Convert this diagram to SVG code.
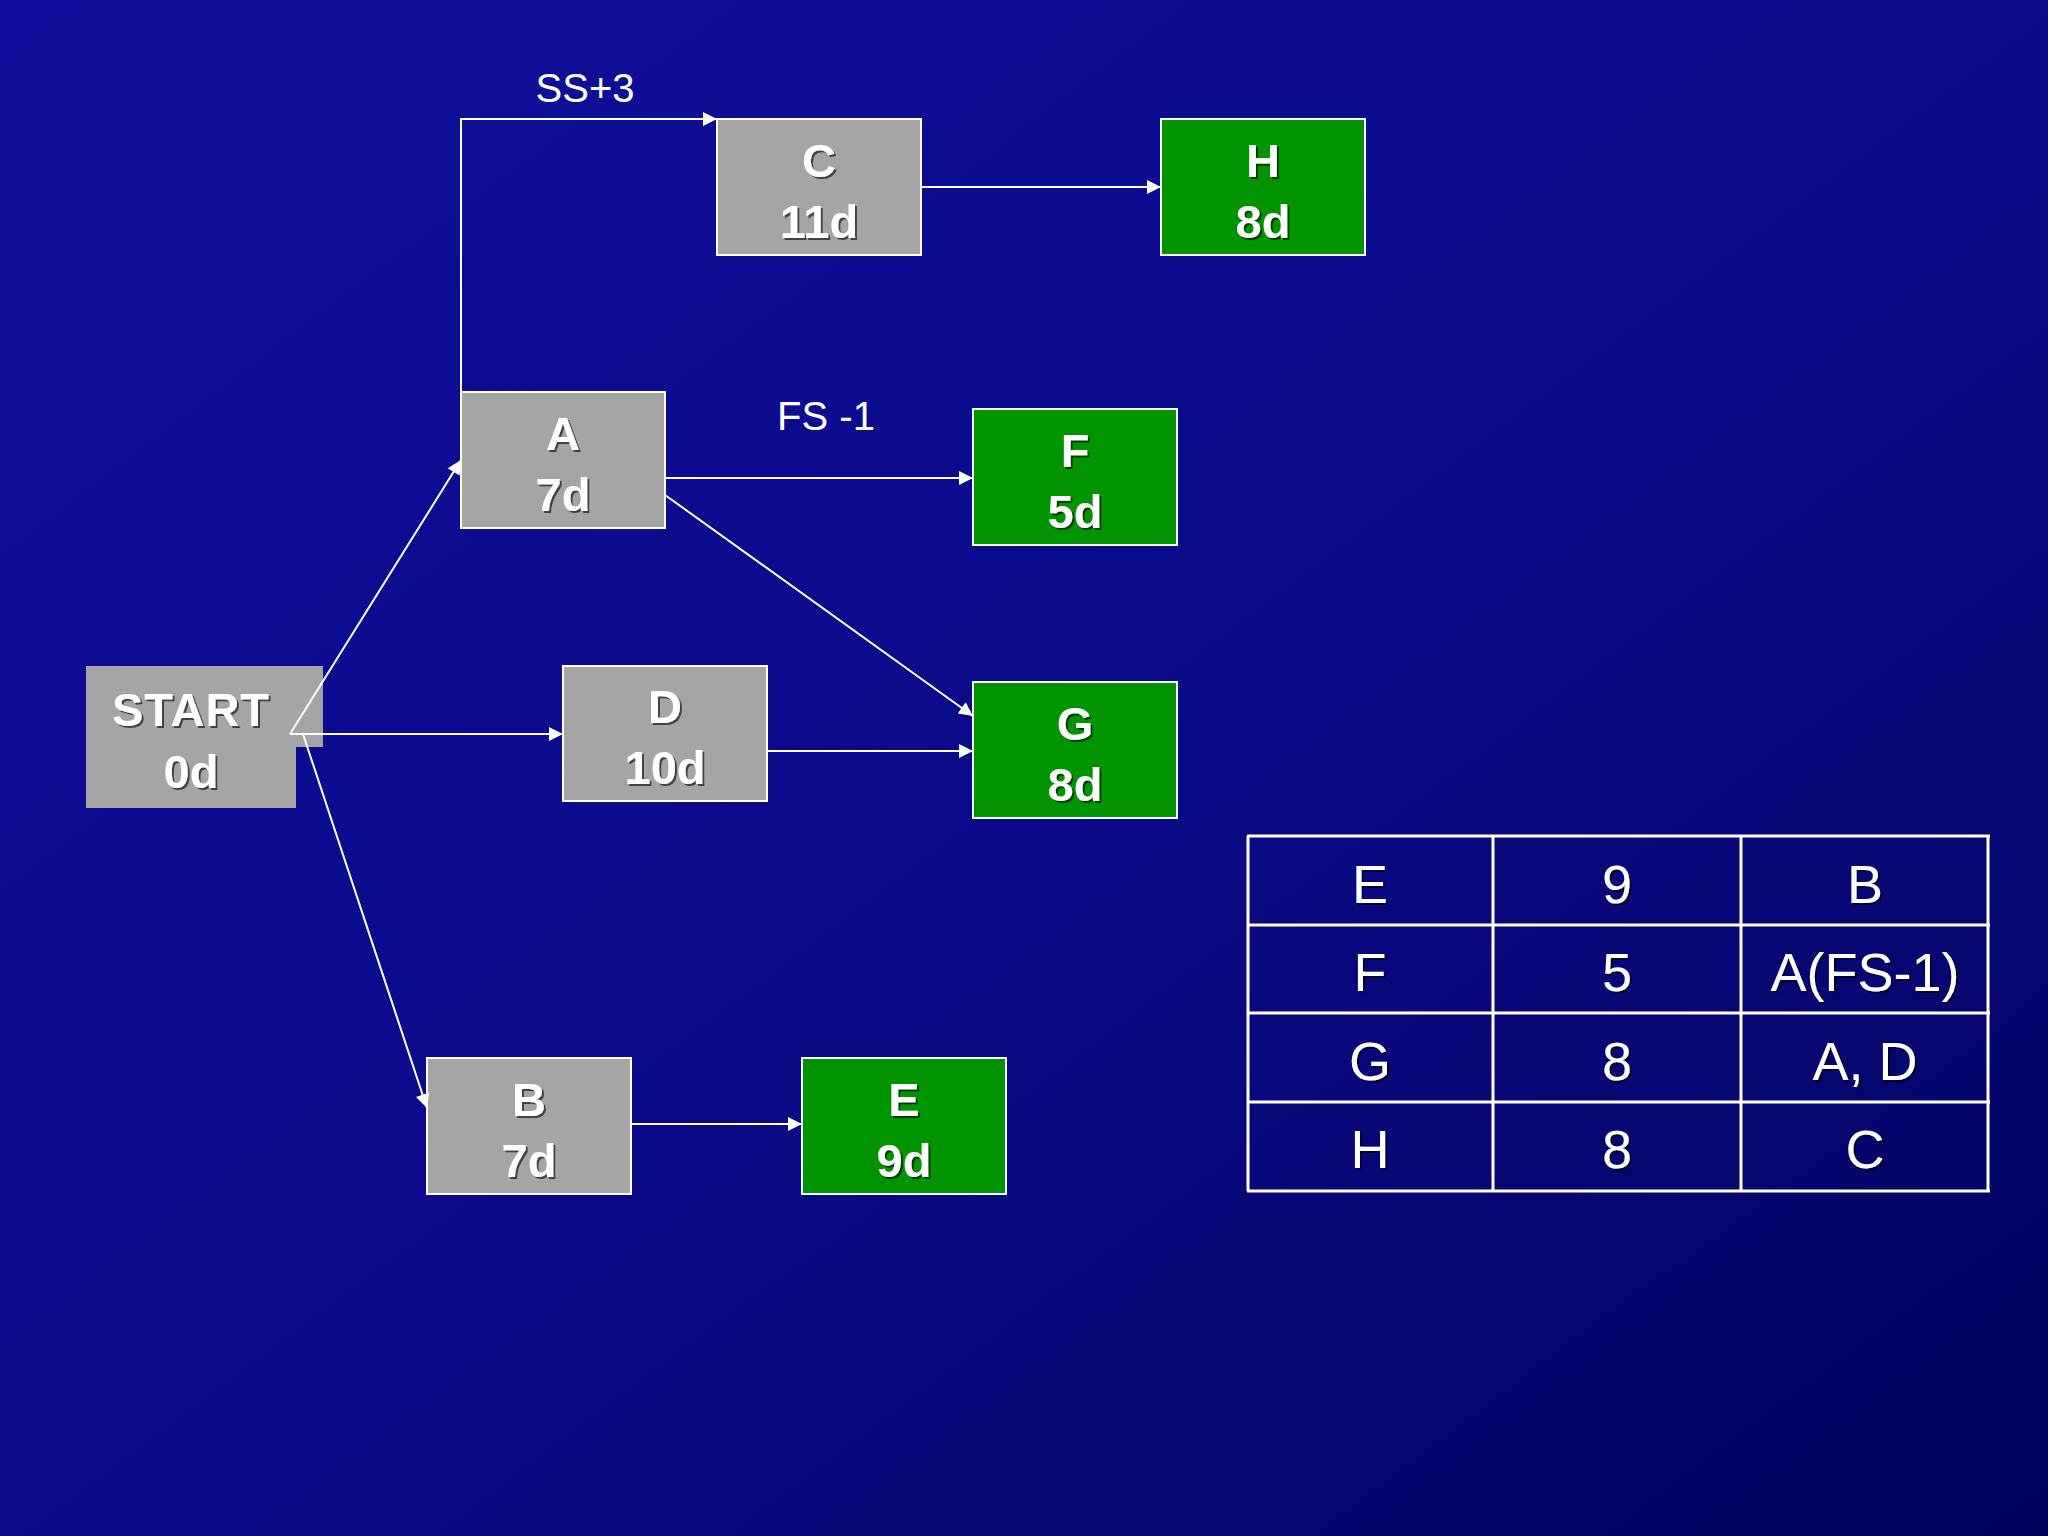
<svg xmlns="http://www.w3.org/2000/svg" width="2048" height="1536" viewBox="0 0 2048 1536">
<defs>
<linearGradient id="bg" x1="0" y1="0" x2="1" y2="1">
<stop offset="0" stop-color="#10109c"/><stop offset="0.5" stop-color="#0a0a8a"/><stop offset="1" stop-color="#03035e"/>
</linearGradient>
<marker id="ar" viewBox="0 0 10 10" refX="10" refY="5" markerWidth="15" markerHeight="14" markerUnits="userSpaceOnUse" orient="auto"><path d="M0,0 L10,5 L0,10 z" fill="#fff"/></marker>
<filter id="sh"><feDropShadow dx="2" dy="2" stdDeviation="0.5" flood-color="#000" flood-opacity="0.6"/></filter>
</defs>
<style>
.g{fill:#a5a5a5;stroke:#fff;stroke-width:2}
.gn{fill:#009400;stroke:#fff;stroke-width:2}
.t{font-family:"Liberation Sans",Arial,sans-serif;font-weight:bold;font-size:47px;fill:#fff;text-anchor:middle;filter:url(#sh)}
.c{stroke:#fff;stroke-width:2;fill:none;marker-end:url(#ar)}
.l{font-family:"Liberation Sans",Arial,sans-serif;font-size:40px;fill:#fff;text-anchor:middle}
.tb{font-family:"Liberation Sans",Arial,sans-serif;font-size:54px;fill:#fff;text-anchor:middle;filter:url(#sh)}
.tl{stroke:#fff;stroke-width:3}
</style>
<rect width="2048" height="1536" fill="url(#bg)"/>
<g id="START"><rect x="86" y="666" width="210" height="142" fill="#a5a5a5"/><rect x="290" y="666" width="33" height="81" fill="#a5a5a5"/><text class="t" x="191" y="726" letter-spacing="1">START</text><text class="t" x="191" y="788">0d</text></g>
<g id="A"><rect class="g" x="461" y="392" width="204" height="136"/><text class="t" x="563" y="450">A</text><text class="t" x="563" y="511">7d</text></g>
<g id="C"><rect class="g" x="717" y="119" width="204" height="136"/><text class="t" x="819" y="177">C</text><text class="t" x="819" y="238">11d</text></g>
<g id="H"><rect class="gn" x="1161" y="119" width="204" height="136"/><text class="t" x="1263" y="177">H</text><text class="t" x="1263" y="238">8d</text></g>
<g id="F"><rect class="gn" x="973" y="409" width="204" height="136"/><text class="t" x="1075" y="467">F</text><text class="t" x="1075" y="528">5d</text></g>
<g id="D"><rect class="g" x="563" y="666" width="204" height="135"/><text class="t" x="665" y="723">D</text><text class="t" x="665" y="784">10d</text></g>
<g id="G"><rect class="gn" x="973" y="682" width="204" height="136"/><text class="t" x="1075" y="740">G</text><text class="t" x="1075" y="801">8d</text></g>
<g id="B"><rect class="g" x="427" y="1058" width="204" height="136"/><text class="t" x="529" y="1116">B</text><text class="t" x="529" y="1177">7d</text></g>
<g id="E"><rect class="gn" x="802" y="1058" width="204" height="136"/><text class="t" x="904" y="1116">E</text><text class="t" x="904" y="1177">9d</text></g>
<g id="connectors">
<polyline class="c" points="461,392 461,119 717,119"/>
<line class="c" x1="921" y1="187" x2="1161" y2="187"/>
<line class="c" x1="665" y1="478" x2="973" y2="478"/>
<line class="c" x1="665" y1="495" x2="973" y2="716"/>
<line class="c" x1="290" y1="734" x2="461" y2="460"/>
<line class="c" x1="290" y1="734" x2="563" y2="734"/>
<line class="c" x1="303" y1="734" x2="427" y2="1108"/>
<line class="c" x1="767" y1="751" x2="973" y2="751"/>
<line class="c" x1="631" y1="1124" x2="802" y2="1124"/>
<text class="l" x="585" y="102">SS+3</text>
<text class="l" x="826" y="430">FS -1</text>
</g>
<g id="table">
<line class="tl" x1="1247" y1="836" x2="1990" y2="836"/>
<line class="tl" x1="1247" y1="925" x2="1990" y2="925"/>
<line class="tl" x1="1247" y1="1013" x2="1990" y2="1013"/>
<line class="tl" x1="1247" y1="1102" x2="1990" y2="1102"/>
<line class="tl" x1="1247" y1="1191" x2="1990" y2="1191"/>
<line class="tl" x1="1248" y1="836" x2="1248" y2="1191"/>
<line class="tl" x1="1493" y1="836" x2="1493" y2="1191"/>
<line class="tl" x1="1741" y1="836" x2="1741" y2="1191"/>
<line class="tl" x1="1988" y1="836" x2="1988" y2="1191"/>
<text class="tb" x="1370" y="903">E</text><text class="tb" x="1617" y="903">9</text><text class="tb" x="1865" y="903">B</text>
<text class="tb" x="1370" y="991">F</text><text class="tb" x="1617" y="991">5</text><text class="tb" x="1865" y="991">A(FS-1)</text>
<text class="tb" x="1370" y="1080">G</text><text class="tb" x="1617" y="1080">8</text><text class="tb" x="1865" y="1080">A, D</text>
<text class="tb" x="1370" y="1168">H</text><text class="tb" x="1617" y="1168">8</text><text class="tb" x="1865" y="1168">C</text>
</g>
</svg>
